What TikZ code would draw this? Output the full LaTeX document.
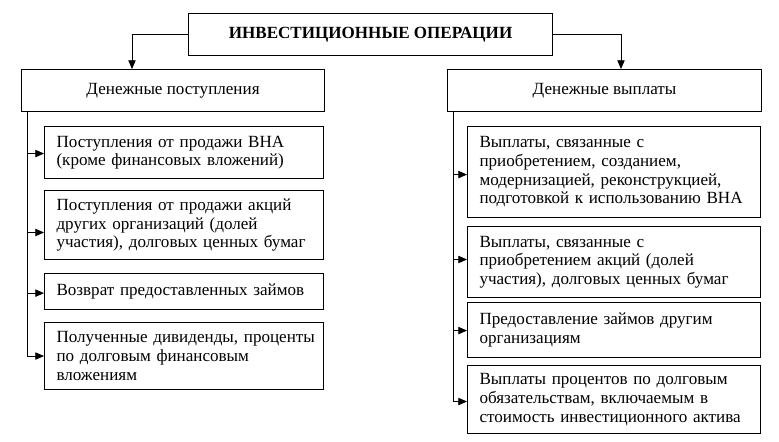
\documentclass[tikz,border=0pt]{standalone}
\usepackage{fontspec}
\setmainfont{Liberation Serif}
\usetikzlibrary{arrows.meta}
\tikzset{
  box/.style={draw=black, line width=0.8pt, anchor=north west, inner sep=0pt, font=\fontsize{12.8pt}{14pt}\selectfont},
  headbox/.style={box, align=center},
  itembox/.style={box, align=left, inner xsep=9pt},
  litem/.style={itembox, minimum width=209.25pt, text width=191.25pt},
  ritem/.style={itembox, minimum width=219.75pt, text width=201.75pt},
  arr/.style={line width=0.6pt, -{Triangle[length=6.5pt,width=5.5pt]}},
  conn/.style={line width=0.6pt}
}
\hfuzz=10pt
\begin{document}
\begin{tikzpicture}[x=0.75pt,y=-0.75pt]
\useasboundingbox (0,0) rectangle (779,442);
% top
\node[headbox, minimum width=273pt, minimum height=31.5pt] (T) at (188,13) {\textbf{ИНВЕСТИЦИОННЫЕ ОПЕРАЦИИ}};
\node[headbox, minimum width=227.25pt, minimum height=31.5pt] (L) at (21,69) {Денежные поступления};
\node[headbox, minimum width=235.5pt, minimum height=31.5pt] (R) at (447,69) {Денежные выплаты};
% left items
\node[litem, minimum height=39pt] (L1) at (44,126) {\mbox{Поступления от продажи ВНА}\\\mbox{(кроме финансовых вложений)}};
\node[litem, minimum height=51.75pt] (L2) at (44,190) {\mbox{Поступления от продажи акций}\\\mbox{других организаций (долей}\\\mbox{участия), долговых ценных бумаг}};
\node[litem, minimum height=27pt] (L3) at (44,273) {\mbox{Возврат предоставленных займов}};
\node[litem, minimum height=50.25pt] (L4) at (44,322) {\mbox{Полученные дивиденды, проценты}\\\mbox{по долговым финансовым}\\\mbox{вложениям}};
% right items
\node[ritem, minimum height=68.25pt] (R1) at (467,126) {\mbox{Выплаты, связанные с}\\\mbox{приобретением, созданием,}\\\mbox{модернизацией, реконструкцией,}\\\mbox{подготовкой к использованию ВНА}};
\node[ritem, minimum height=53.25pt] (R2) at (467,226) {\mbox{Выплаты, связанные с}\\\mbox{приобретением акций (долей}\\\mbox{участия), долговых ценных бумаг}};
\node[ritem, minimum height=41.25pt] (R3) at (467,302) {\mbox{Предоставление займов другим}\\\mbox{организациям}};
\node[ritem, minimum height=51pt] (R4) at (467,365) {\mbox{Выплаты процентов по долговым}\\\mbox{обязательствам, включаемым в}\\\mbox{стоимость инвестиционного актива}};
% top connectors
\coordinate (la) at (132,69);
\coordinate (ra) at (621,69);
\draw[arr] (T.west) -| (la);
\draw[arr] (T.east) -| (ra);
% trunks
\coordinate (lt) at (27,111);
\coordinate (rt) at (453,111);
\draw[arr] (lt) |- (L4.west);
\draw[arr] (lt) |- ([yshift=-0.75pt]L1.west);
\draw[arr] (lt) |- ([yshift=-5.6pt]L2.west);
\draw[arr] (lt) |- ([yshift=-1.2pt]L3.west);
\draw[arr] (rt) |- ([yshift=-1.5pt]R4.west);
\draw[arr] (rt) |- ([yshift=-1.9pt]R1.west);
\draw[arr] (rt) |- ([yshift=1.9pt]R2.west);
\draw[arr] (rt) |- ([yshift=-0.4pt]R3.west);
\end{tikzpicture}
\end{document}
